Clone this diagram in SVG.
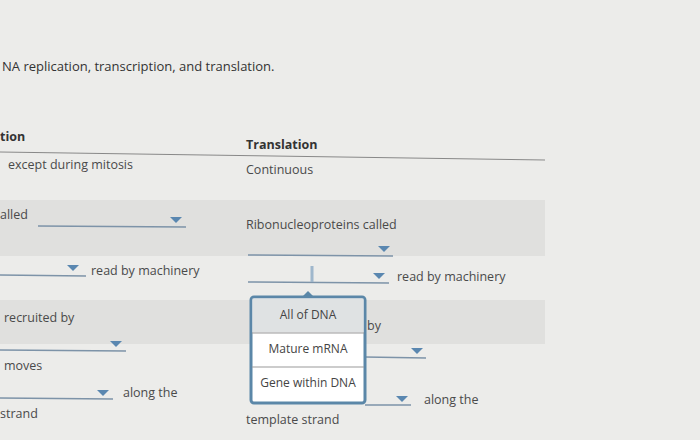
<svg xmlns="http://www.w3.org/2000/svg" width="700" height="440" viewBox="0 0 700 440">
<defs><style>
text{font-family:"Open Sans","Liberation Sans",sans-serif;font-size:12.5px;fill:#4a4a4a}
.b{font-weight:bold;fill:#333}
.ln{stroke:#7d93a8;stroke-width:1.6}
.tri{fill:#5a87b0}
.opt{font-size:12px;text-anchor:middle;fill:#444}
</style>
<polygon id="t" points="-6,0 6,0 0,6" class="tri"/>
</defs>
<rect width="700" height="440" fill="#ececea"/>
<rect x="0" y="200" width="545" height="56" fill="#e0e0de"/>
<rect x="0" y="300" width="545" height="44" fill="#e0e0de"/>
<text x="2" y="71" style="font-size:13px;fill:#333">NA replication, transcription, and translation.</text>
<text x="0" y="141" class="b">tion</text>
<text x="246" y="149" class="b">Translation</text>
<line x1="0" y1="152" x2="545" y2="160" stroke="#888" stroke-width="1"/>
<text x="8" y="169">except during mitosis</text>
<text x="246" y="174">Continuous</text>
<text x="0" y="219">alled</text>
<line x1="38" y1="226" x2="186" y2="227" class="ln"/><use href="#t" x="176" y="217"/>
<text x="246" y="229">Ribonucleoproteins called</text>
<line x1="248" y1="255" x2="393" y2="256" class="ln"/><use href="#t" x="384" y="246"/>
<line x1="0" y1="275" x2="86" y2="276" class="ln"/><use href="#t" x="73" y="265"/>
<text x="91" y="275">read by machinery</text>
<line x1="248" y1="282" x2="389" y2="283" class="ln"/><use href="#t" x="379" y="273"/>
<line x1="312" y1="266" x2="312" y2="282" stroke="#9fb7cc" stroke-width="3"/>
<text x="397" y="281">read by machinery</text>
<text x="4" y="322">recruited by</text>
<line x1="0" y1="350" x2="126" y2="351" class="ln"/><use href="#t" x="116" y="341"/>
<text x="4" y="370">moves</text>
<line x1="0" y1="398" x2="113" y2="399" class="ln"/><use href="#t" x="103" y="390"/>
<text x="123" y="397">along the</text>
<text x="0" y="418">strand</text>
<text x="367" y="330">by</text>
<line x1="365" y1="357" x2="426" y2="358" class="ln"/><use href="#t" x="417" y="348"/>
<line x1="365" y1="405" x2="411" y2="405" class="ln"/><use href="#t" x="402" y="396"/>
<text x="424" y="404">along the</text>
<text x="246" y="424">template strand</text>
<g id="popup">
<polygon points="302,297 308,291 314,297" fill="#5b87a8"/>
<rect x="251" y="297" width="114" height="106" rx="3" fill="#fff" stroke="#5b87a8" stroke-width="3"/>
<rect x="252.5" y="298.5" width="111" height="34" fill="#dfe2e3"/>
<line x1="252" y1="333" x2="364" y2="333" stroke="#999"/>
<line x1="252" y1="367" x2="364" y2="367" stroke="#999"/>
<text x="308" y="319" class="opt">All of DNA</text>
<text x="308" y="353" class="opt">Mature mRNA</text>
<text x="308" y="387" class="opt">Gene within DNA</text>
</g>
</svg>
